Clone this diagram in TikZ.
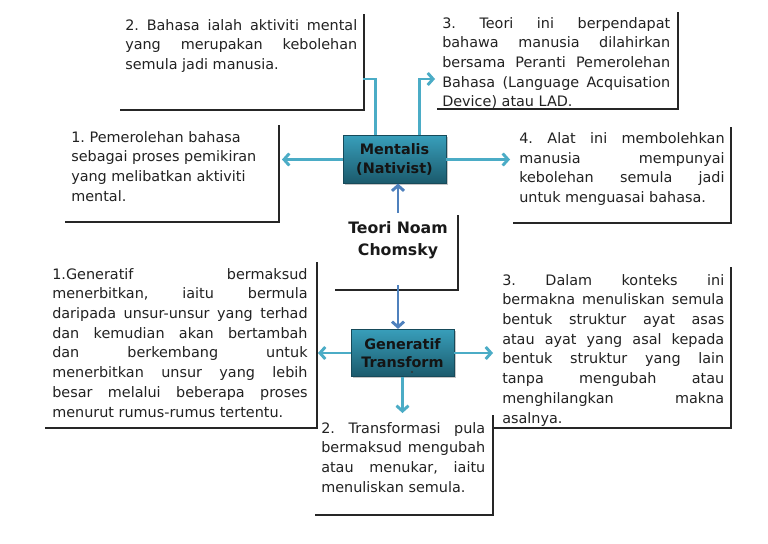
\documentclass[tikz,border=0pt]{standalone}
\usepackage{fontspec}
\setmainfont{DejaVu Sans}
\usetikzlibrary{arrows.meta,calc,shadows}
\definecolor{tealline}{RGB}{75,172,198}
\definecolor{steelline}{RGB}{79,129,189}
\definecolor{platetop}{RGB}{56,158,186}
\definecolor{platebottom}{RGB}{27,90,108}
\definecolor{platerim}{RGB}{22,74,90}
\definecolor{inkgray}{RGB}{34,34,34}
\frenchspacing
\begin{document}
\begin{tikzpicture}[x=0.75pt, y=-0.75pt,
    note/.style={anchor=base west, inner sep=0pt, align=justify, text=inkgray,
      font=\fontsize{10.8}{14.8}\selectfont,
      execute at begin node={\frenchspacing\hyphenpenalty=10000\exhyphenpenalty=10000\tolerance=10000\hbadness=10000}},
    rim/.style={draw=black!85, line width=1.1pt},
    tealbar/.style={draw=tealline, line width=2.2pt},
    tealarrow/.style={tealbar, -{Straight Barb[length=4pt, width=9pt]}},
    steelarrow/.style={draw=steelline, line width=2.2pt, -{Straight Barb[length=4pt, width=9pt]}},
    plate/.style={rectangle, draw=platerim, line width=0.6pt, top color=platetop, bottom color=platebottom,
      minimum width=77.25pt, minimum height=35.5pt, inner sep=0pt, text width=75pt, align=center,
      font=\bfseries\fontsize{10.8}{13.7}\selectfont, text=black!92,
      drop shadow={shadow xshift=1.2pt, shadow yshift=-1.2pt, fill=black!45}}]
\useasboundingbox (0,0) rectangle (768,543);%
\fill [white] (0,0) rectangle (768,543);%

% Mentalis plate
\draw (394.5,159.5) node [plate] (mentalis) {Mentalis\\(Nativist)};%

% Text box 2, top left
\draw (125,30) node [note, text width=174pt] (bahasanote) {2. Bahasa ialah aktiviti mental\linebreak yang merupakan kebolehan\linebreak semula jadi manusia.};%
\draw [rim] (364,14) -- (364,110) -- (120,110);%

% Text box 3, top right
\draw (442,28) node [note, text width=171pt] (teorinote) {3. Teori ini berpendapat\linebreak bahawa manusia dilahirkan\linebreak bersama Peranti Pemerolehan\linebreak Bahasa (Language Acquisation\linebreak Device) atau LAD.};%
\draw [rim] (678,12) -- (678,109) -- (437,109);%

% Text box 1, left
\draw (71,142) node [note, text width=150pt, align=flush left] (prosesnote) {1. Pemerolehan bahasa\linebreak sebagai proses pemikiran\linebreak yang melibatkan aktiviti\linebreak mental.};%
\draw [rim] (279,125) -- (279,222) -- (65,222);%

% Text box 4, right
\draw (519,143.5) node [note, text width=154pt] (alatnote) {4. Alat ini membolehkan\linebreak manusia mempunyai\linebreak kebolehan semula jadi\linebreak untuk menguasai bahasa.};%
\draw [rim] (731,127) -- (731,223) -- (513,223);%

% Links from Mentalis
\coordinate (toptwo) at (363,79);%
\coordinate (topthree) at (435,79);%
\coordinate (leftone) at (282,159);%
\coordinate (rightfour) at (510,159);%
\draw [tealbar] ($(mentalis.north west)+(33,0)$) |- (toptwo);%
\draw [tealarrow] ($(mentalis.north east)+(-27,0)$) |- (topthree);%
\draw [tealarrow] (mentalis.west) -- (mentalis.west -| leftone);%
\draw [tealarrow] (mentalis.east) -- (mentalis.east -| rightfour);%

% Centre title
\draw (398,233) node [anchor=base, inner xsep=0pt, inner ysep=6pt, text width=120pt, align=center, text=black!90,
  font=\bfseries\fontsize{11.8}{16.5}\selectfont] (teori) {Teori Noam\\ Chomsky};%
\draw [rim] (458,215) -- (458,290) -- (335,290);%
\coordinate (teoriout) at (398,285);%

% Generatif plate
\draw (402.5,353) node [plate] (gen) {Generatif\\Transform};%
\fill [black!80] (412,372) circle (0.8pt);%

% Steel arrows through the title
\draw [steelarrow] (teori.north) -- (teori.north |- mentalis.south);%
\draw [steelarrow] (teoriout) -- (teoriout |- gen.north);%

% Text box G1, bottom left
\draw (52,279) node [note, text width=191.5pt] (generatifnote) {1.Generatif bermaksud\linebreak menerbitkan, iaitu bermula\linebreak daripada unsur-unsur yang terhad\linebreak dan kemudian akan bertambah\linebreak dan berkembang untuk\linebreak menerbitkan unsur yang lebih\linebreak besar melalui beberapa proses\linebreak menurut rumus-rumus tertentu.};%
\draw [rim] (317,262) -- (317,428) -- (45,428);%

% Text box G3, bottom right
\draw (502,285) node [note, text width=166.5pt] (kontekesnote) {3. Dalam konteks ini\linebreak bermakna menuliskan semula\linebreak bentuk struktur ayat asas\linebreak atau ayat yang asal kepada\linebreak bentuk struktur yang lain\linebreak tanpa mengubah atau\linebreak menghilangkan makna\linebreak asalnya.};%
\draw [rim] (731,267) -- (731,428) -- (494,428);%

% Text box G2, bottom centre
\draw (321,433) node [note, text width=123pt] (transnote) {2. Transformasi pula\linebreak bermaksud mengubah\linebreak atau menukar, iaitu\linebreak menuliskan semula.};%
\draw [rim] (493,415) -- (493,515) -- (315,515);%

% Links from Generatif
\coordinate (leftg) at (318,353);%
\coordinate (rightg) at (493,353);%
\coordinate (downg) at (400,413);%
\draw [tealarrow] (gen.west) -- (gen.west -| leftg);%
\draw [tealarrow] (gen.east) -- (gen.east -| rightg);%
\draw [tealarrow] (gen.south) -- (gen.south |- downg);%
\end{tikzpicture}
\end{document}
